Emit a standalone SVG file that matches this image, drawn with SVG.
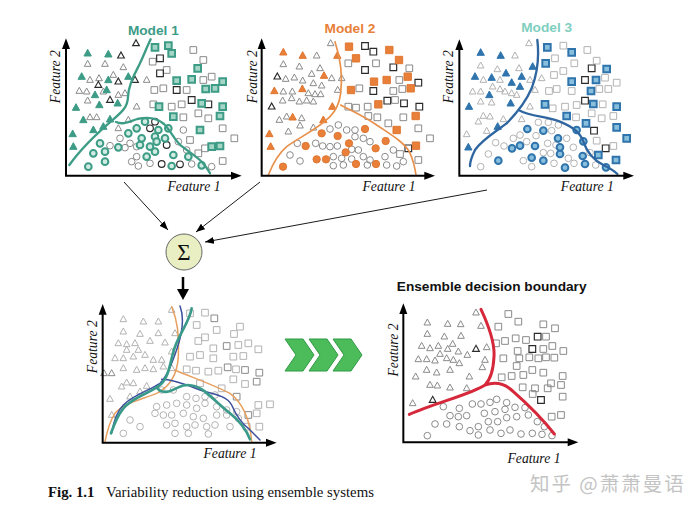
<svg xmlns="http://www.w3.org/2000/svg" width="699" height="513" viewBox="0 0 699 513">
<style>
.p{fill:none;stroke:none}
.ax{stroke:#000;stroke-width:6;fill:none}
.ah{fill:#000}
.lab{font-family:"Liberation Serif",serif;font-style:italic;font-size:41px;fill:#111}
.ttl{font-family:"Liberation Sans",Arial,sans-serif;font-weight:bold;font-size:41px}
.mg{fill:none;stroke:#8a8a8a;stroke-width:3}
.mk{fill:none;stroke:#2a2a2a;stroke-width:3.5}
.ml{fill:none;stroke:#b2b2b2;stroke-width:3}
.mT{fill:#3d9c86;stroke:#3d9c86;stroke-width:3}
.mTs{fill:#a5d5c6;stroke:#3d9c86;stroke-width:6}
.mTc{fill:#d2ece3;stroke:#3d9c86;stroke-width:6}
.mO{fill:#e8803a;stroke:#e07530;stroke-width:3}
.mB{fill:#2f74ad;stroke:#2f74ad;stroke-width:3}
.mBs{fill:#88bfdc;stroke:#2f74ad;stroke-width:6}
.tg{marker-start:url(#tg);marker-mid:url(#tg);marker-end:url(#tg)}
.tk{marker-start:url(#tk);marker-mid:url(#tk);marker-end:url(#tk)}
.tl{marker-start:url(#tl);marker-mid:url(#tl);marker-end:url(#tl)}
.tT{marker-start:url(#tT);marker-mid:url(#tT);marker-end:url(#tT)}
.tO{marker-start:url(#tO);marker-mid:url(#tO);marker-end:url(#tO)}
.tB{marker-start:url(#tB);marker-mid:url(#tB);marker-end:url(#tB)}
.sg{marker-start:url(#sg);marker-mid:url(#sg);marker-end:url(#sg)}
.sk{marker-start:url(#sk);marker-mid:url(#sk);marker-end:url(#sk)}
.sl{marker-start:url(#sl);marker-mid:url(#sl);marker-end:url(#sl)}
.sT{marker-start:url(#sT);marker-mid:url(#sT);marker-end:url(#sT)}
.sO{marker-start:url(#sO);marker-mid:url(#sO);marker-end:url(#sO)}
.sB{marker-start:url(#sB);marker-mid:url(#sB);marker-end:url(#sB)}
.cg{marker-start:url(#cg);marker-mid:url(#cg);marker-end:url(#cg)}
.ck{marker-start:url(#ck);marker-mid:url(#ck);marker-end:url(#ck)}
.cl{marker-start:url(#cl);marker-mid:url(#cl);marker-end:url(#cl)}
.cT{marker-start:url(#cT);marker-mid:url(#cT);marker-end:url(#cT)}
.cO{marker-start:url(#cO);marker-mid:url(#cO);marker-end:url(#cO)}
.cB{marker-start:url(#cB);marker-mid:url(#cB);marker-end:url(#cB)}
.cv{fill:none;stroke-linecap:round;stroke-linejoin:round}
.arrow{stroke:#000;stroke-width:0.9;fill:none;marker-end:url(#arr)}
.chev{fill:#4cbb5a;stroke:#2f9a45;stroke-width:1}
</style>
<defs>
<marker id="tg" markerUnits="userSpaceOnUse" markerWidth="30" markerHeight="30" refX="0" refY="0" overflow="visible"><path class="mg" d="M0-11l10 18h-20z"/></marker>
<marker id="tk" markerUnits="userSpaceOnUse" markerWidth="30" markerHeight="30" refX="0" refY="0" overflow="visible"><path class="mk" d="M0-11l10 18h-20z"/></marker>
<marker id="tl" markerUnits="userSpaceOnUse" markerWidth="30" markerHeight="30" refX="0" refY="0" overflow="visible"><path class="ml" d="M0-11l10 18h-20z"/></marker>
<marker id="tT" markerUnits="userSpaceOnUse" markerWidth="30" markerHeight="30" refX="0" refY="0" overflow="visible"><path class="mT" d="M0-12l11 20h-22z"/></marker>
<marker id="tO" markerUnits="userSpaceOnUse" markerWidth="30" markerHeight="30" refX="0" refY="0" overflow="visible"><path class="mO" d="M0-12l11 20h-22z"/></marker>
<marker id="tB" markerUnits="userSpaceOnUse" markerWidth="30" markerHeight="30" refX="0" refY="0" overflow="visible"><path class="mB" d="M0-12l11 20h-22z"/></marker>
<marker id="sg" markerUnits="userSpaceOnUse" markerWidth="30" markerHeight="30" refX="0" refY="0" overflow="visible"><path class="mg" d="M-10-10h20v20h-20z"/></marker>
<marker id="sk" markerUnits="userSpaceOnUse" markerWidth="30" markerHeight="30" refX="0" refY="0" overflow="visible"><path class="mk" d="M-10-10h20v20h-20z"/></marker>
<marker id="sl" markerUnits="userSpaceOnUse" markerWidth="30" markerHeight="30" refX="0" refY="0" overflow="visible"><path class="ml" d="M-10-10h20v20h-20z"/></marker>
<marker id="sT" markerUnits="userSpaceOnUse" markerWidth="30" markerHeight="30" refX="0" refY="0" overflow="visible"><path class="mTs" d="M-10-10h20v20h-20z"/></marker>
<marker id="sO" markerUnits="userSpaceOnUse" markerWidth="30" markerHeight="30" refX="0" refY="0" overflow="visible"><path class="mO" d="M-11-11h22v22h-22z"/></marker>
<marker id="sB" markerUnits="userSpaceOnUse" markerWidth="30" markerHeight="30" refX="0" refY="0" overflow="visible"><path class="mBs" d="M-10-10h20v20h-20z"/></marker>
<marker id="cg" markerUnits="userSpaceOnUse" markerWidth="30" markerHeight="30" refX="0" refY="0" overflow="visible"><circle class="mg" r="10"/></marker>
<marker id="ck" markerUnits="userSpaceOnUse" markerWidth="30" markerHeight="30" refX="0" refY="0" overflow="visible"><circle class="mk" r="10"/></marker>
<marker id="cl" markerUnits="userSpaceOnUse" markerWidth="30" markerHeight="30" refX="0" refY="0" overflow="visible"><circle class="ml" r="10"/></marker>
<marker id="cT" markerUnits="userSpaceOnUse" markerWidth="30" markerHeight="30" refX="0" refY="0" overflow="visible"><circle class="mTc" r="10"/></marker>
<marker id="cO" markerUnits="userSpaceOnUse" markerWidth="30" markerHeight="30" refX="0" refY="0" overflow="visible"><circle class="mO" r="11"/></marker>
<marker id="cB" markerUnits="userSpaceOnUse" markerWidth="30" markerHeight="30" refX="0" refY="0" overflow="visible"><circle class="mBs" r="10"/></marker>
<marker id="arr" markerUnits="userSpaceOnUse" markerWidth="9" markerHeight="7" refX="9" refY="3.5" orient="auto"><path d="M0 0L9 3.5L0 7z" fill="#000"/></marker>
</defs>
<rect width="699" height="513" fill="#fff"/>

<g id="model1" transform="translate(40 10) scale(0.33333)">
<text class="ttl" x="340" y="75" text-anchor="middle" fill="#3d9c86">Model 1</text>
<polyline class="p tg" points="143,162 195,162 250,172 150,210 177,205 220,195 320,210 118,243 140,245 190,245 235,255 255,250 143,272 290,290 150,322 170,322 265,330 235,355"/>
<polyline class="p tk" points="288,100 243,137 285,210 175,225 235,215 210,270"/>
<polyline class="p tT" points="143,130 205,133 125,200 205,210 265,200 165,255 200,240 178,285 233,280 108,293 130,330 210,328 190,350 160,360 98,372 100,410"/>
<polyline class="p sg" points="460,120 338,155 490,150 380,180 515,200 343,240 370,235 490,210 440,240 340,283 395,290 425,283 430,322 475,310 505,325 548,355 583,385 450,390 475,430 495,415 548,453"/>
<polyline class="p sk" points="360,145 360,190 410,240 455,270 505,283"/>
<polyline class="p sT" points="345,112 385,107 395,130 473,175 410,212 455,208 548,215 497,237 525,235 357,290 485,280 548,290 400,320 540,318 480,360 515,410 540,408"/>
<polyline class="p cg" points="430,360 240,385 270,400 290,410 210,407 255,413 415,395 290,440 275,455 295,468 440,420 330,460 455,462 515,470"/>
<polyline class="p ck" points="345,335 330,355 380,405 365,462 420,463"/>
<polyline class="p cT" points="315,335 265,370 290,355 355,360 385,355 305,385 345,380 375,385 180,400 235,412 300,405 330,410 350,395 160,430 195,425 320,440 345,425 400,435 445,440 145,470 195,455 395,468 485,466"/>
<path class="cv" stroke="#3d9c86" stroke-width="7" d="M88 465C120 420 180 362 220 328C248 304 263 290 264 260C265 228 280 198 295 170C310 140 320 112 332 88M228 336C250 346 268 334 292 327C322 320 352 325 372 342C392 362 402 388 422 406C446 425 470 440 486 456C496 468 505 480 510 490"/>
<path class="ax" d="M78 500V115M75 497H575"/>
<polygon class="ah" points="78,85 66,117 90,117"/>
<polygon class="ah" points="605,497 573,485 573,509"/>
<text class="lab" transform="translate(60 200) rotate(-90)" text-anchor="middle">Feature 2</text>
<text class="lab" x="462" y="543" text-anchor="middle">Feature 1</text>
</g>

<g id="model2" transform="translate(250 10) scale(0.33333)">
<text class="ttl" x="300" y="70" text-anchor="middle" fill="#e8803a">Model 2</text>
<polyline class="p tg" points="242,100 200,137 100,163 148,170 210,175 107,207 133,203 158,212 185,192 245,205 275,205 100,245 127,245 175,250 190,220 215,227 195,253 212,253 263,240 98,272 125,265 148,275 170,272 190,275 88,330 110,320 155,325 115,365 150,347 190,353"/>
<polyline class="p tk" points="65,290 82,200"/>
<polyline class="p tO" points="100,127 158,137 262,137 222,197 73,243 157,237 247,290 128,322 220,330 58,372 62,410"/>
<polyline class="p sg" points="295,160 378,160 478,175 448,210 328,235 430,243 457,237 295,290 318,293 353,290 435,270 355,318 382,322 460,322 415,340 505,355 540,385 505,450 450,432"/>
<polyline class="p sk" points="345,108 370,125 345,180 430,172 370,243 412,272 462,280 508,290 475,415 505,218"/>
<polyline class="p sO" points="297,110 418,120 318,145 447,150 372,215 410,210 473,200 303,240 482,235 385,283 497,318 440,360 498,407"/>
<polyline class="p cg" points="240,357 265,345 290,360 315,360 315,380 340,385 360,395 142,400 197,400 218,408 240,410 262,408 305,418 325,420 120,435 150,453 250,440 275,445 305,447 340,440 360,450 405,440 430,420 250,467 280,465 352,465 410,465 440,468 460,455"/>
<polyline class="p cO" points="345,357 215,370 263,378 297,400 407,393 167,408 287,427 377,415 228,448 200,448 99,470 318,462 378,462"/>
<path class="cv" stroke="#e8904a" stroke-width="5" d="M255 95C270 140 278 200 272 250C268 280 260 300 240 320C200 360 150 380 110 410C80 435 65 470 55 495M272 285C300 300 345 320 380 345C420 372 460 395 478 425C490 450 495 475 498 495"/>
<path class="ax" d="M35 500V115M32 497H525"/>
<polygon class="ah" points="35,85 23,117 47,117"/>
<polygon class="ah" points="555,497 523,485 523,509"/>
<text class="lab" transform="translate(21 200) rotate(-90)" text-anchor="middle">Feature 2</text>
<text class="lab" x="417" y="543" text-anchor="middle">Feature 1</text>
</g>

<g id="model3" transform="translate(450 10) scale(0.33333)">
<text class="ttl" x="290" y="67" text-anchor="middle" fill="#7fcfbf">Model 3</text>
<polyline class="p tl" points="237,100 195,137 92,167 142,178 207,175 100,210 150,210 240,210 275,205 68,245 92,245 128,230 150,238 165,245 185,250 200,255 255,240 92,275 125,278 240,290 100,318 120,320 85,335 160,328 110,363 215,328 50,373"/>
<polyline class="p tB" points="92,128 152,137 248,170 75,200 125,203 168,190 185,218 215,200 210,230 118,255 57,290 182,280 143,350 55,412"/>
<polyline class="p sl" points="340,107 412,120 315,145 373,160 340,183 440,152 312,195 465,203 500,218 297,243 320,237 365,243 448,237 475,237 308,295 345,290 380,285 458,283 378,322 425,310 455,325 490,318 440,392 490,408"/>
<polyline class="p sk" points="425,175 405,210 405,272 432,362 467,415"/>
<polyline class="p sB" points="292,112 365,127 287,160 470,177 365,215 438,210 423,243 285,283 430,282 500,290 350,318 408,340 500,352 530,385 445,435 498,450"/>
<polyline class="p cl" points="265,337 295,337 325,345 305,362 190,385 210,375 258,377 350,385 137,398 162,408 230,395 293,400 318,405 370,412 115,432 220,452 280,428 302,430 355,445 372,460 420,428 92,470 245,470 312,460 437,465"/>
<polyline class="p cB" points="232,357 280,362 380,360 324,385 400,394 186,415 210,407 255,408 330,412 145,452 245,443 330,432 398,438 280,452 345,473 405,462 468,472"/>
<path class="cv" stroke="#2f66a0" stroke-width="7" d="M262 90C268 140 262 190 245 235C230 270 200 310 170 340C130 370 95 390 75 420C65 440 60 455 60 468M210 302C240 318 290 320 330 335C365 350 390 365 400 395C410 425 430 450 460 465C480 475 495 485 502 492"/>
<path class="ax" d="M28 500V118M25 497H522"/>
<polygon class="ah" points="28,88 16,120 40,120"/>
<polygon class="ah" points="552,497 520,485 520,509"/>
<text class="lab" transform="translate(9 200) rotate(-90)" text-anchor="middle">Feature 2</text>
<text class="lab" x="412" y="543" text-anchor="middle">Feature 1</text>
</g>

<g id="sigma">
<circle cx="184" cy="252" r="18" fill="#e9efc2" stroke="#666" stroke-width="1"/>
<text x="184" y="260" text-anchor="middle" font-family="'Liberation Serif',serif" font-size="23" fill="#111">Σ</text>
</g>

<g id="connectors">
<line class="arrow" x1="124" y1="182" x2="168" y2="230"/>
<line class="arrow" x1="260" y1="182" x2="196" y2="232"/>
<line class="arrow" x1="487" y1="190" x2="205" y2="242"/>
<line x1="183" y1="277" x2="183" y2="291" stroke="#000" stroke-width="2.5"/>
<polygon points="183,300 177,289 189,289" fill="#000"/>
</g>

<g id="chevrons">
<polygon class="chev" points="285,339 303,339 314,355 303,371 285,371 296,355"/>
<polygon class="chev" points="309,339 327,339 338,355 327,371 309,371 320,355"/>
<polygon class="chev" points="333,339 351,339 362,355 351,371 333,371 344,355"/>
</g>

<g id="combined" transform="translate(90 280) scale(0.33333)">
<polyline class="p tl" points="245,90 100,118 160,125 205,125 100,155 150,162 205,160 85,190 110,193 135,190 180,183 225,188 255,160 75,235 100,235 130,230 165,225 190,240 215,240 110,210 145,210 245,215 100,265 140,270 165,265 190,268 220,260 245,265 95,320 110,308 130,310 170,318 150,335 120,350 60,357 65,405"/>
<polyline class="p tg" points="65,280 42,280"/>
<polyline class="p sl" points="300,100 345,98 320,135 380,150 432,162 325,183 345,172 450,140 370,205 445,195 475,190 505,208 300,230 330,225 370,235 430,230 460,228 290,268 318,272 355,275 385,272 438,268 430,298 465,312 330,310 395,325 540,373 505,375 500,400 508,440 470,440"/>
<polyline class="p sg" points="373,115 410,198 413,262 465,270 508,278 500,305 440,350 475,405"/>
<polyline class="p cl" points="215,330 250,330 290,350 318,355 345,350 375,345 200,380 230,375 260,370 290,375 320,385 345,370 380,380 410,390 440,395 195,400 220,405 245,405 280,400 310,410 340,415 380,405 410,405 445,415 120,420 150,440 230,435 255,430 290,440 315,435 350,440 375,435 420,440 100,460 255,460 295,460 355,462"/>
<path class="cv" stroke="#e8a060" stroke-width="4.5" d="M245 80C262 120 268 180 265 230C262 280 240 320 200 340C150 360 100 370 75 400C58 425 50 460 45 485M255 270C300 290 360 310 420 340C460 370 480 420 485 485"/>
<path class="cv" stroke="#3b4f9c" stroke-width="4.5" d="M270 78C290 130 265 200 245 250C232 285 220 300 210 310C180 330 130 345 100 375C80 395 70 430 65 458M215 298C250 298 290 315 330 330C360 340 410 345 425 375C440 410 455 430 475 445C490 460 500 470 510 480"/>
<path class="cv" stroke="#3a9a8a" stroke-width="8" d="M305 85C300 120 270 160 255 200C240 240 240 290 210 315C180 340 130 350 100 385C80 410 70 440 63 460M200 322C215 345 240 335 265 322C290 310 320 315 345 335C375 360 395 380 420 400C445 420 465 440 480 478"/>
<path class="ax" d="M38 491V102M35 488H530"/>
<polygon class="ah" points="38,72 26,104 50,104"/>
<polygon class="ah" points="560,488 528,476 528,500"/>
<text class="lab" transform="translate(21 200) rotate(-90)" text-anchor="middle">Feature 2</text>
<text class="lab" x="420" y="535" text-anchor="middle">Feature 1</text>
</g>

<g id="ensemble" transform="translate(370 270) scale(0.33333)">
<text class="ttl" x="365" y="63" text-anchor="middle" fill="#111">Ensemble decision boundary</text>
<polyline class="p tg" points="318,128 172,158 233,162 272,163 333,168 172,192 223,200 273,198 155,228 180,235 205,228 233,237 265,245 210,252 248,222 350,232 145,268 170,268 195,272 230,265 250,270 268,280 292,255 345,270 170,300 200,308 240,300 337,292 137,320 298,320 180,345 202,347 240,353 290,355 128,400"/>
<polyline class="p tk" points="318,237 188,390"/>
<polyline class="p sg" points="415,132 445,155 520,163 555,175 385,170 405,213 437,205 468,210 528,200 378,220 443,243 520,237 547,228 580,243 400,265 448,265 478,262 505,265 528,262 553,263 440,288 487,300 520,308 578,318 395,322 425,318 460,315 543,340 573,345 458,352 495,355 533,355 488,372 578,380 545,440 573,435"/>
<polyline class="p sk" points="503,200 487,237 513,390"/>
<polyline class="p cg" points="220,410 268,415 307,402 333,402 360,397 380,388 410,398 240,437 265,440 290,437 343,430 375,425 405,418 435,412 465,413 195,462 230,462 268,470 300,482 325,470 355,455 383,455 410,443 440,440 475,435 502,455 523,470 325,495 360,480 393,490 420,480 453,492 487,490 516,493 546,497 172,497"/>
<path class="cv" stroke="#d6283a" stroke-width="9" d="M333 118C355 165 375 215 372 260C370 300 360 330 345 345M345 345C310 370 200 398 118 433M345 345C375 335 405 340 430 365C470 400 520 450 553 492"/>
<path class="ax" d="M100 520V130M97 517H595"/>
<polygon class="ah" points="100,100 88,132 112,132"/>
<polygon class="ah" points="625,517 593,505 593,529"/>
<text class="lab" transform="translate(84 240) rotate(-90)" text-anchor="middle">Feature 2</text>
<text class="lab" x="492" y="578" text-anchor="middle">Feature 1</text>
</g>

<g id="caption" font-family="'Liberation Serif',serif" font-size="14.8" fill="#111">
<text x="48" y="497" font-weight="bold">Fig. 1.1</text>
<text x="106" y="497">Variability reduction using ensemble systems</text>
</g>
<text x="530" y="491" font-family="'Noto Sans CJK SC',sans-serif" font-size="19.5" fill="#c4c4c4" letter-spacing="2">知乎 @萧萧曼语</text>
</svg>
